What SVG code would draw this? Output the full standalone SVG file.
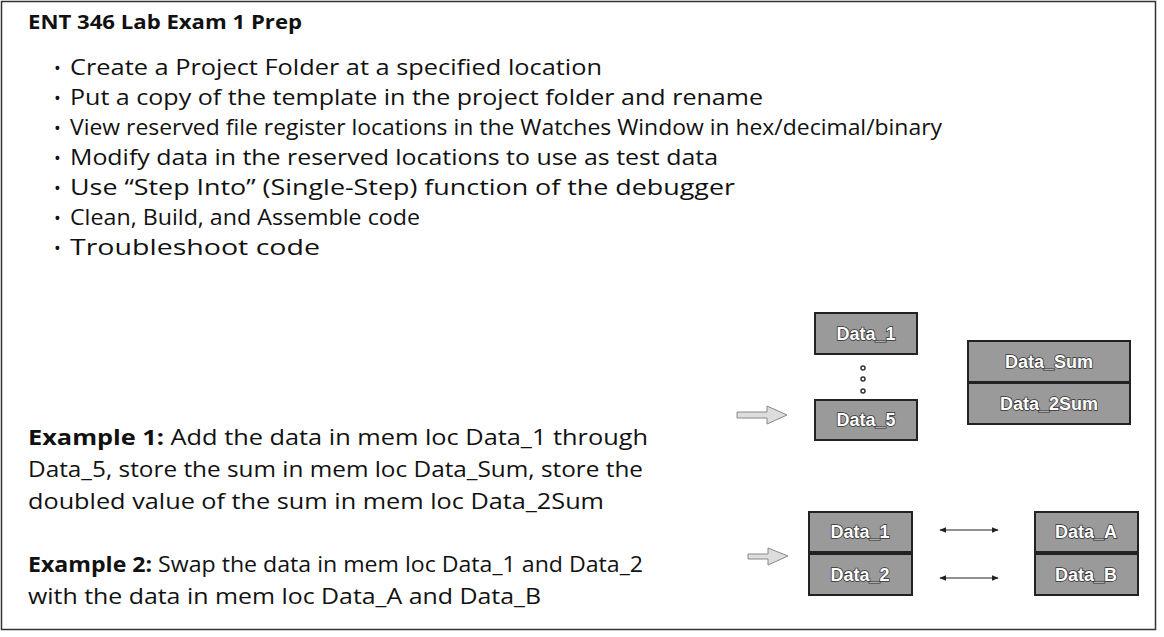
<svg xmlns="http://www.w3.org/2000/svg" width="1164" height="637" viewBox="0 0 1164 637">
<style>
text{font-family:"Open Sans","Liberation Sans",sans-serif;fill:#111}
.c{font-size:22px}
.box{fill:#9a9a9a;stroke:#222;stroke-width:2}
.bl{font-family:"Liberation Sans",sans-serif;font-weight:bold;font-size:18px;fill:#fff;text-anchor:middle;stroke:#333;stroke-width:1.5;paint-order:stroke}
.ha{fill:#ddd;stroke:#888;stroke-width:1}
.dl{stroke:#222;stroke-width:1.2;fill:none;marker-start:url(#m);marker-end:url(#m)}
</style>
<defs><marker id="m" viewBox="0 0 10 10" refX="9" refY="5" markerWidth="6" markerHeight="6" orient="auto-start-reverse"><path d="M0,1L10,5L0,9z" fill="#222"/></marker></defs>
<rect x="1.5" y="1.5" width="1154" height="628" fill="#fff" stroke="#333" stroke-width="1.5"/>
<text x="28" y="29" font-weight="bold" font-size="20" textLength="274" lengthAdjust="spacingAndGlyphs">ENT 346 Lab Exam 1 Prep</text>
<g>
<text x="54" y="75" font-size="18">•</text><text x="70" y="75" class="c" textLength="532" lengthAdjust="spacingAndGlyphs">Create a Project Folder at a specified location</text>
<text x="54" y="105" font-size="18">•</text><text x="70" y="105" class="c" textLength="693" lengthAdjust="spacingAndGlyphs">Put a copy of the template in the project folder and rename</text>
<text x="54" y="135" font-size="18">•</text><text x="70" y="135" class="c" textLength="872" lengthAdjust="spacingAndGlyphs">View reserved file register locations in the Watches Window in hex/decimal/binary</text>
<text x="54" y="165" font-size="18">•</text><text x="70" y="165" class="c" textLength="648" lengthAdjust="spacingAndGlyphs">Modify data in the reserved locations to use as test data</text>
<text x="54" y="195" font-size="18">•</text><text x="70" y="195" class="c" textLength="665" lengthAdjust="spacingAndGlyphs">Use “Step Into” (Single-Step) function of the debugger</text>
<text x="54" y="225" font-size="18">•</text><text x="70" y="225" class="c" textLength="350" lengthAdjust="spacingAndGlyphs">Clean, Build, and Assemble code</text>
<text x="54" y="255" font-size="18">•</text><text x="70" y="255" class="c" textLength="250" lengthAdjust="spacingAndGlyphs">Troubleshoot code</text>
</g>
<text x="28" y="445" class="c" textLength="620" lengthAdjust="spacingAndGlyphs"><tspan font-weight="bold">Example 1:</tspan>  Add the data in mem loc Data_1 through</text>
<text x="28" y="477" class="c" textLength="615" lengthAdjust="spacingAndGlyphs">Data_5, store the sum in mem loc Data_Sum, store the</text>
<text x="28" y="509" class="c" textLength="576" lengthAdjust="spacingAndGlyphs">doubled value of the sum in mem loc Data_2Sum</text>
<text x="28" y="572" class="c" textLength="615" lengthAdjust="spacingAndGlyphs"><tspan font-weight="bold">Example 2:</tspan>  Swap the data in mem loc Data_1 and Data_2</text>
<text x="28" y="604" class="c" textLength="513" lengthAdjust="spacingAndGlyphs">with the data in mem loc Data_A and Data_B</text>
<g id="connectors">
<path class="ha" d="M737,412h30v-6l20,9l-20,9v-6h-30z"/>
<path class="ha" d="M748,554h20v-6l20,8l-20,9v-6h-20z"/>
<line class="dl" x1="940" y1="530" x2="998" y2="530"/>
<line class="dl" x1="940" y1="578" x2="998" y2="578"/>
</g>
<g id="ex1-data1"><rect class="box" x="815" y="313" width="102" height="41"/><text class="bl" x="866" y="340">Data_1</text></g>
<g id="ex1-dots" fill="none" stroke="#333" stroke-width="1.5"><circle cx="863" cy="368" r="2"/><circle cx="863" cy="379" r="2"/><circle cx="863" cy="391" r="2"/></g>
<g id="ex1-data5"><rect class="box" x="815" y="400" width="102" height="40"/><text class="bl" x="866" y="426">Data_5</text></g>
<g id="datasum"><rect class="box" x="968" y="341" width="162" height="41"/><text class="bl" x="1049" y="368">Data_Sum</text></g>
<g id="data2sum"><rect class="box" x="968" y="383" width="162" height="41"/><text class="bl" x="1049" y="410">Data_2Sum</text></g>
<g id="ex2-data1"><rect class="box" x="809" y="512" width="103" height="40"/><text class="bl" x="860" y="538">Data_1</text></g>
<g id="ex2-data2"><rect class="box" x="809" y="554" width="103" height="41"/><text class="bl" x="860" y="581">Data_2</text></g>
<g id="dataA"><rect class="box" x="1035" y="512" width="103" height="40"/><text class="bl" x="1086" y="538">Data_A</text></g>
<g id="dataB"><rect class="box" x="1035" y="554" width="103" height="41"/><text class="bl" x="1086" y="581">Data_B</text></g>
</svg>
